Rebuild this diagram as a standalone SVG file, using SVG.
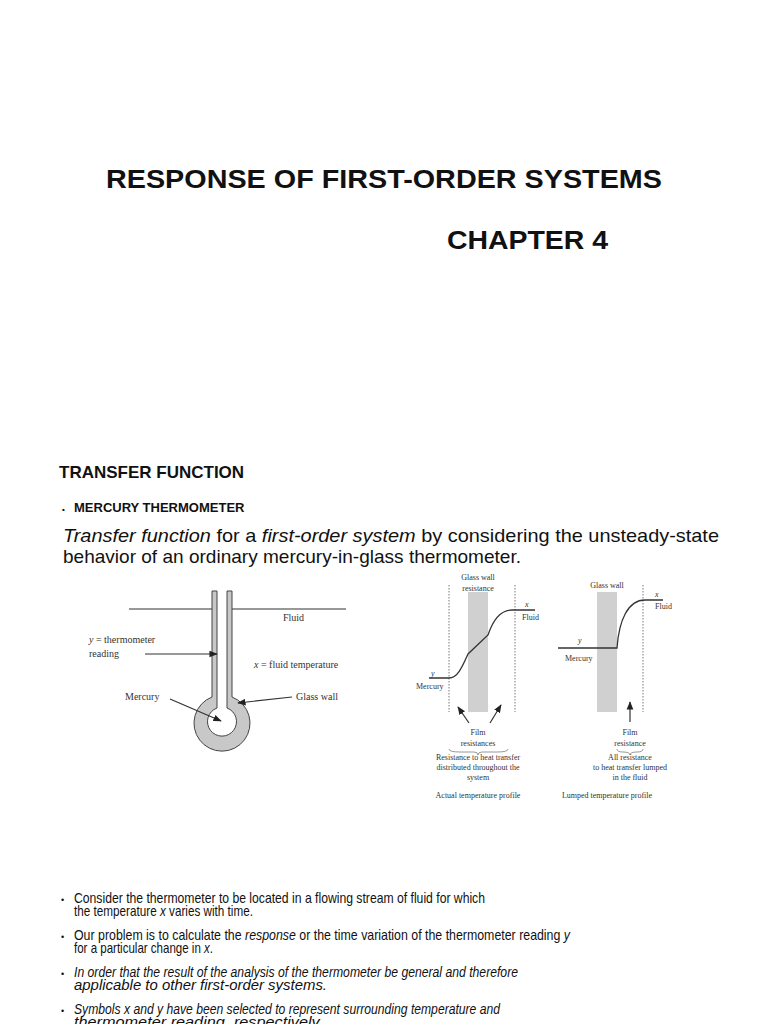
<svg xmlns="http://www.w3.org/2000/svg" width="768" height="1024" viewBox="0 0 768 1024">
<style>
.h{font-family:"Liberation Sans",Arial,sans-serif;font-weight:bold;fill:#111}
.b{font-family:"Liberation Sans",Arial,sans-serif;fill:#111}
.s{font-family:"Liberation Serif","Times New Roman",serif;fill:#333;font-size:10px}
.m{font-family:"Liberation Serif","Times New Roman",serif;fill:#333;font-size:8px}
.ln{stroke:#333;stroke-width:1.2;fill:none}
.dot{stroke:#555;stroke-width:0.8;stroke-dasharray:1.5 1.5;fill:none}
</style>
<defs>
<marker id="ah" viewBox="0 0 10 10" refX="9" refY="5" markerWidth="7" markerHeight="7" orient="auto"><path d="M0,1 L10,5 L0,9 z" fill="#222"/></marker>
</defs>
<rect width="768" height="1024" fill="#fff"/>
<text class="h" x="106" y="188" font-size="26" textLength="556" lengthAdjust="spacingAndGlyphs">RESPONSE OF FIRST-ORDER SYSTEMS</text>
<text class="h" x="447" y="249" font-size="26" textLength="161" lengthAdjust="spacingAndGlyphs">CHAPTER 4</text>
<text class="h" x="59" y="478" font-size="17">TRANSFER FUNCTION</text>
<text class="h" x="62" y="512" font-size="8">•</text>
<text class="h" x="74" y="512" font-size="13">MERCURY THERMOMETER</text>
<text class="b" x="63" y="542" font-size="19" textLength="656" lengthAdjust="spacingAndGlyphs"><tspan font-style="italic">Transfer function</tspan> for a <tspan font-style="italic">first-order system</tspan> by considering the unsteady-state</text>
<text class="b" x="63" y="563" font-size="19" textLength="458" lengthAdjust="spacingAndGlyphs">behavior of an ordinary mercury-in-glass thermometer.</text>

<g id="thermometer">
<line class="ln" x1="129" y1="609" x2="212" y2="609" stroke-width="1"/>
<line class="ln" x1="232" y1="609" x2="346" y2="609" stroke-width="1"/>
<path d="M212,591 L212,697 A28,28 0 1 0 232,697 L232,591 L227,591 L227,708 A14.5,14.5 0 1 1 217,708 L217,591 Z" fill="#c8c8c8" stroke="#444" stroke-width="1"/>
<text class="s" x="89" y="643"><tspan font-style="italic">y</tspan> = thermometer</text>
<text class="s" x="89" y="657">reading</text>
<line class="ln" x1="145" y1="654" x2="217" y2="654" marker-end="url(#ah)"/>
<text class="s" x="283" y="621">Fluid</text>
<text class="s" x="254" y="668"><tspan font-style="italic">x</tspan> = fluid temperature</text>
<text class="s" x="125" y="700">Mercury</text>
<line class="ln" x1="170" y1="699" x2="221" y2="721" marker-end="url(#ah)"/>
<text class="s" x="296" y="700">Glass wall</text>
<line class="ln" x1="292" y1="697" x2="238" y2="703" marker-end="url(#ah)"/>
</g>

<g id="actual-profile">
<rect x="468" y="592" width="20" height="120" fill="#d0d0d0"/>
<line class="dot" x1="449" y1="585" x2="449" y2="712"/>
<line class="dot" x1="515" y1="585" x2="515" y2="712"/>
<path d="M429,678 L449,678 C458,678 463,665 468,654 L488,635 C493,620 500,610 512,610 L535,610" stroke="#333" stroke-width="1.3" fill="none"/>
<text class="m" x="478" y="580" text-anchor="middle">Glass wall</text>
<text class="m" x="478" y="591" text-anchor="middle">resistance</text>
<text class="m" x="525" y="607" font-style="italic">x</text>
<text class="m" x="522" y="620">Fluid</text>
<text class="m" x="431" y="676" font-style="italic">y</text>
<text class="m" x="416" y="689">Mercury</text>
<line class="ln" x1="469" y1="723" x2="458" y2="707" marker-end="url(#ah)" stroke-width="1"/>
<line class="ln" x1="490" y1="723" x2="501" y2="705" marker-end="url(#ah)" stroke-width="1"/>
<text class="m" x="478" y="735" text-anchor="middle">Film</text>
<text class="m" x="478" y="746" text-anchor="middle">resistances</text>
<path d="M449,749 Q449,752 460,752 L474,752 Q478,752 478,755 Q478,752 482,752 L497,752 Q508,752 508,749" stroke="#555" stroke-width="0.6" fill="none"/>
<text class="m" x="478" y="760" text-anchor="middle">Resistance to heat transfer</text>
<text class="m" x="478" y="770" text-anchor="middle">distributed throughout the</text>
<text class="m" x="478" y="780" text-anchor="middle">system</text>
<text class="m" x="478" y="798" text-anchor="middle">Actual temperature profile</text>
</g>

<g id="lumped-profile">
<rect x="597" y="592" width="20" height="120" fill="#d0d0d0"/>
<line class="dot" x1="643" y1="585" x2="643" y2="712"/>
<path d="M558,648 L617,648 C619,620 628,600 645,600 L663,600" stroke="#333" stroke-width="1.3" fill="none"/>
<text class="m" x="607" y="588" text-anchor="middle">Glass wall</text>
<text class="m" x="655" y="597" font-style="italic">x</text>
<text class="m" x="655" y="609">Fluid</text>
<text class="m" x="578" y="643" font-style="italic">y</text>
<text class="m" x="565" y="661">Mercury</text>
<line class="ln" x1="630" y1="722" x2="630" y2="702" marker-end="url(#ah)" stroke-width="1"/>
<text class="m" x="630" y="735" text-anchor="middle">Film</text>
<text class="m" x="630" y="746" text-anchor="middle">resistance</text>
<path d="M617,749 Q617,752 623,752 Q630,752 630,755 Q630,752 637,752 Q643,752 643,749" stroke="#555" stroke-width="0.6" fill="none"/>
<text class="m" x="630" y="760" text-anchor="middle">All resistance</text>
<text class="m" x="630" y="770" text-anchor="middle">to heat transfer lumped</text>
<text class="m" x="630" y="780" text-anchor="middle">in the fluid</text>
<text class="m" x="607" y="798" text-anchor="middle">Lumped temperature profile</text>
</g>

<g class="b" font-size="15">
<text x="61" y="903" font-size="9">•</text>
<text x="74" y="903" textLength="411" lengthAdjust="spacingAndGlyphs">Consider the thermometer to be located in a flowing stream of fluid for which</text>
<text x="74" y="916" textLength="179" lengthAdjust="spacingAndGlyphs">the temperature <tspan font-style="italic">x</tspan> varies with time.</text>
<text x="61" y="940" font-size="9">•</text>
<text x="74" y="940" textLength="496" lengthAdjust="spacingAndGlyphs">Our problem is to calculate the <tspan font-style="italic">response</tspan> or the time variation of the thermometer reading <tspan font-style="italic">y</tspan></text>
<text x="74" y="953" textLength="139" lengthAdjust="spacingAndGlyphs">for a particular change in <tspan font-style="italic">x</tspan>.</text>
<g font-style="italic">
<text x="61" y="977" font-size="9" font-style="normal">•</text>
<text x="74" y="977" textLength="444" lengthAdjust="spacingAndGlyphs">In order that the result of the analysis of the thermometer be general and therefore</text>
<text x="74" y="990" textLength="253" lengthAdjust="spacingAndGlyphs">applicable to other first-order systems.</text>
<text x="61" y="1014" font-size="9" font-style="normal">•</text>
<text x="74" y="1014" textLength="426" lengthAdjust="spacingAndGlyphs">Symbols x and y have been selected to represent surrounding temperature and</text>
<text x="74" y="1027" textLength="249" lengthAdjust="spacingAndGlyphs">thermometer reading, respectively.</text>
</g>
</g>
</svg>
